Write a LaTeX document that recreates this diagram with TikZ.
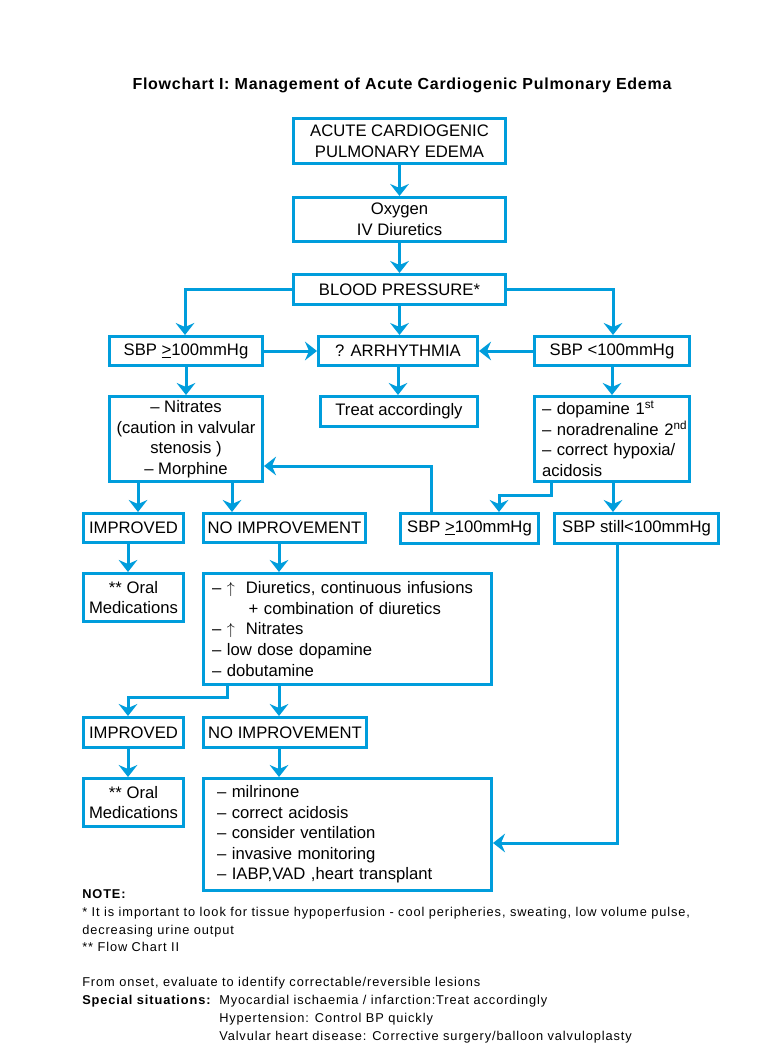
\documentclass[tikz,border=0pt]{standalone}
\usepackage{fontspec}
\setmainfont{Liberation Sans}
\newfontfamily\notefont{Liberation Sans}[LetterSpace=7]
\newfontfamily\titlefont{Liberation Sans}[LetterSpace=4.5]
\usetikzlibrary{arrows.meta}
\definecolor{fblue}{RGB}{0,157,220}
\newcommand\pxu{0.75pt}
\begin{document}
\begin{tikzpicture}[x=0.75pt,y=-0.75pt,
  box/.style={draw=fblue, line width=2.25pt, inner sep=0pt, align=center,
    font=\fontsize{12.5}{15.4}\selectfont},
  lbox/.style={box, align=left},
  arr/.style={draw=fblue, line width=2.25pt, -{Stealth[length=9pt,width=14pt,inset=3pt]}},
  note/.style={anchor=base west, inner sep=0pt, font=\notefont\fontsize{9.6}{12}\selectfont},
  notebf/.style={note, font=\notefont\bfseries\fontsize{9.6}{12}\selectfont},
]
\useasboundingbox (0,0) rectangle (771,1062);

\node[font=\titlefont\bfseries\fontsize{12}{14}\selectfont] (title) at (402,85)
  {Flowchart I: Management of Acute Cardiogenic Pulmonary Edema};

\node[box, minimum width=212*\pxu, minimum height=45*\pxu] (acute) at (399.5,141) {ACUTE CARDIOGENIC\\PULMONARY EDEMA};
\node[box, minimum width=212*\pxu, minimum height=44*\pxu] (oxy) at (399.5,219.5) {Oxygen\\IV Diuretics};
\node[box, minimum width=212*\pxu, minimum height=30*\pxu] (bp) at (399.5,289.5) {BLOOD PRESSURE*};
\node[box, minimum width=153*\pxu, minimum height=29*\pxu] (sbphi) at (186,351) {SBP \underline{>}100mmHg};
\node[box, minimum width=159*\pxu, minimum height=29*\pxu] (arrh) at (398,351) {? ARRHYTHMIA};
\node[box, minimum width=155*\pxu, minimum height=29*\pxu] (sbplo) at (612,351) {SBP <100mmHg};
\node[box, minimum width=157*\pxu, minimum height=30*\pxu] (treat) at (399,411.5) {Treat accordingly};
\node[box, minimum width=153*\pxu, minimum height=85*\pxu] (nitr) at (186,439) {-- Nitrates\\(caution in valvular\\stenosis )\\-- Morphine};
\node[lbox, text width=140*\pxu, inner xsep=7.5*\pxu, minimum height=85*\pxu] (dopa) at (612,439)
  {\mbox{-- dopamine 1\textsuperscript{st}}\\\mbox{-- noradrenaline 2\textsuperscript{nd}}\\\mbox{-- correct hypoxia/}\\acidosis};
\node[box, minimum width=100*\pxu, minimum height=29*\pxu] (imp1) at (133.5,528) {IMPROVED};
\node[box, minimum width=162*\pxu, minimum height=29*\pxu] (noimp1) at (284.5,528) {NO IMPROVEMENT};
\node[box, minimum width=138*\pxu, minimum height=30*\pxu] (sbphi2) at (469.5,528.5) {SBP \underline{>}100mmHg};
\node[box, minimum width=164*\pxu, minimum height=30*\pxu] (sbpstill) at (636.5,528.5) {SBP still<100mmHg};
\node[box, minimum width=100*\pxu, minimum height=48*\pxu] (oral1) at (133.5,597.5) {** Oral\\Medications};
\node[lbox, text width=271*\pxu, inner xsep=8.5*\pxu, minimum height=111*\pxu] (big1) at (347.5,629)
  {-- $\uparrow$\ \ Diuretics, continuous infusions\\\hspace*{2.2em}+ combination of diuretics\\-- $\uparrow$\ \ Nitrates\\-- low dose dopamine\\-- dobutamine};
\node[box, minimum width=100*\pxu, minimum height=30*\pxu] (imp2) at (133.5,732.5) {IMPROVED};
\node[box, minimum width=163*\pxu, minimum height=30*\pxu] (noimp2) at (285,732.5) {NO IMPROVEMENT};
\node[box, minimum width=100*\pxu, minimum height=48*\pxu] (oral2) at (133.5,802.5) {** Oral\\Medications};
\node[lbox, text width=261*\pxu, inner xsep=13.5*\pxu, minimum height=112*\pxu] (big2) at (347.5,834.5)
  {-- milrinone\\-- correct acidosis\\-- consider ventilation\\-- invasive monitoring\\-- IABP,VAD ,heart transplant};

\coordinate (xa) at (138,0);
\coordinate (xb) at (232,0);
\coordinate (xc) at (128,0);
\coordinate (xd) at (279,0);
\coordinate (xe) at (227,0);
\coordinate (xf) at (431,0);
\coordinate (xg) at (551,0);
\coordinate (xh) at (499,0);
\coordinate (xi) at (613,0);
\coordinate (xj) at (617,0);
\coordinate (xk) at (185,0);
\coordinate (ya) at (0,466);
\coordinate (yb) at (0,495);
\coordinate (yc) at (0,697);
\coordinate (yd) at (0,843);

\draw[arr] (acute) -- (oxy);
\draw[arr] (oxy) -- (bp);
\draw[arr] (bp.west) -| (xk |- sbphi.north);
\draw[arr] (bp.east) -| (xi |- sbplo.north);
\draw[arr] (bp.south) -- (bp.south |- arrh.north);
\draw[arr] (sbphi.east) -- (sbphi.east -| arrh.west);
\draw[arr] (sbplo.west) -- (sbplo.west -| arrh.east);
\draw[arr] (arrh.south) -- (arrh.south |- treat.north);
\draw[arr] (sbphi) -- (nitr);
\draw[arr] (sbplo) -- (dopa);
\draw[arr] (xa |- nitr.south) -- (xa |- imp1.north);
\draw[arr] (xb |- nitr.south) -- (xb |- noimp1.north);
\draw[arr] (xc |- imp1.south) -- (xc |- oral1.north);
\draw[arr] (xd |- noimp1.south) -- (xd |- big1.north);
\draw[arr] (xe |- big1.south) -- (xe |- yc) -- (xc |- yc) -- (xc |- imp2.north);
\draw[arr] (xd |- big1.south) -- (xd |- noimp2.north);
\draw[arr] (xc |- imp2.south) -- (xc |- oral2.north);
\draw[arr] (xd |- noimp2.south) -- (xd |- big2.north);
\draw[arr] (xf |- sbphi2.north) -- (xf |- ya) -- (nitr.east |- ya);
\draw[arr] (xg |- dopa.south) -- (xg |- yb) -- (xh |- yb) -- (xh |- sbphi2.north);
\draw[arr] (xi |- dopa.south) -- (xi |- sbpstill.north);
\draw[arr] (xj |- sbpstill.south) -- (xj |- yd) -- (big2.east |- yd);

\node[notebf] (n1) at (82,898) {NOTE:};
\node[note] (n2) at (82,916) {* It is important to look for tissue hypoperfusion - cool peripheries, sweating, low volume pulse,};
\node[note] (n3) at (82,934) {decreasing urine output};
\node[note] (n4) at (82,951.5) {** Flow Chart II};
\node[note] (n5) at (82,986.5) {From onset, evaluate to identify correctable/reversible lesions};
\node[notebf] (n6) at (82,1004) {Special situations:};
\node[note] (n7) at (219,1004) {Myocardial ischaemia / infarction:Treat accordingly};
\node[note] (n8) at (219,1022) {Hypertension: Control BP quickly};
\node[note] (n9) at (219,1040) {Valvular heart disease: Corrective surgery/balloon valvuloplasty};
\end{tikzpicture}
\end{document}
